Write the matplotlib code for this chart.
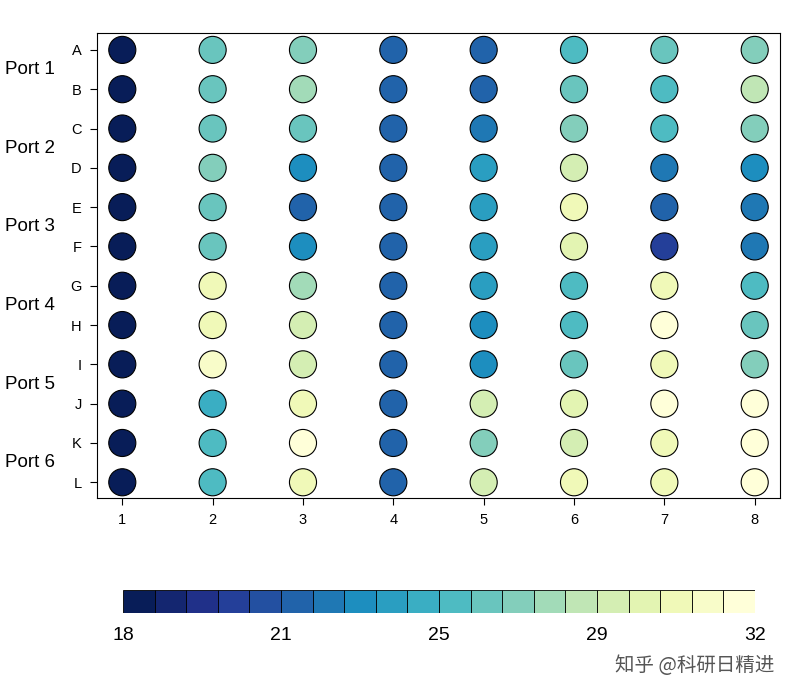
import numpy as np
import matplotlib.pyplot as plt
from matplotlib.colors import ListedColormap, BoundaryNorm

plt.rcParams['font.family'] = ['Liberation Sans', 'Noto Sans CJK SC', 'DejaVu Sans']

rows = list("ABCDEFGHIJKL")
cols = [1, 2, 3, 4, 5, 6, 7, 8]
ports = ["Port 1", "Port 2", "Port 3", "Port 4", "Port 5", "Port 6"]

# values per column (rows A..L)
col1 = [18.0] * 12
col2 = [26, 26, 26, 27, 26, 26, 30.5, 30.5, 31, 24.5, 25, 25]
col3 = [27, 27.5, 26, 23, 22, 23, 27.5, 29, 28.5, 30.5, 31.5, 30.5]
col4 = [21.5] * 12
col5 = [21.5, 21.5, 22.5, 24, 24, 24, 24, 23.5, 23.5, 29, 27, 28.5]
col6 = [25, 26, 27, 29, 30.5, 29.5, 25, 25, 26, 29.5, 29, 30]
col7 = [26, 25, 25, 22.5, 21.5, 20.5, 30, 31.5, 30, 31.5, 30.5, 30.5]
col8 = [27, 28, 27, 23.5, 22.5, 22.5, 25, 26, 27, 31.5, 31.5, 31.5]
values = np.array([col1, col2, col3, col4, col5, col6, col7, col8]).T

bar_labels = ["18", "21", "25", "29", "32"]

base = plt.get_cmap('YlGnBu_r')
cmap = ListedColormap(base(np.linspace(0, 1, 20)))
norm = BoundaryNorm(np.linspace(18, 32, 21), 20)

fig = plt.figure(figsize=(7.94, 6.95), dpi=100)
ax = fig.add_axes([97/794, 1-498/695, 683/794, 465/695])
xx, yy = np.meshgrid(cols, range(len(rows)))
ax.scatter(xx.ravel(), yy.ravel(), c=values.ravel(), cmap=cmap, norm=norm,
           s=380, edgecolors='black', linewidths=0.8)
ax.set_xlim(0.72, 8.28)
ax.set_ylim(11.40, -0.43)
ax.set_xticks(cols)
ax.set_yticks(range(len(rows)))
ax.set_yticklabels(rows)
ax.tick_params(labelsize=10.5, length=5, pad=6)
for i, p in enumerate(ports):
    ax.text(5/794, 2*i + 0.5, p, transform=ax.get_yaxis_transform().__class__(fig.transFigure, ax.transData),
            ha='left', va='center', fontsize=13.5)

cax = fig.add_axes([123/794, 1-613/695, 632/794, 23/695])
for k in range(20):
    cax.add_patch(plt.Rectangle((k, 0), 1, 1, facecolor=cmap(k), edgecolor='black', linewidth=0.6))
cax.set_xlim(0, 20)
cax.set_ylim(0, 1)
cax.set_yticks([])
cax.set_xticks(np.linspace(0, 20, 5))
cax.set_xticklabels(bar_labels, fontsize=14)
cax.tick_params(length=0, pad=10)
for s in cax.spines.values():
    s.set_visible(False)

fig.text(0.975, 0.035, "知乎 @科研日精进", ha='right', fontsize=14, color='#555555',
         family=['Noto Sans CJK SC', 'DejaVu Sans'])
fig.savefig("out.png")
